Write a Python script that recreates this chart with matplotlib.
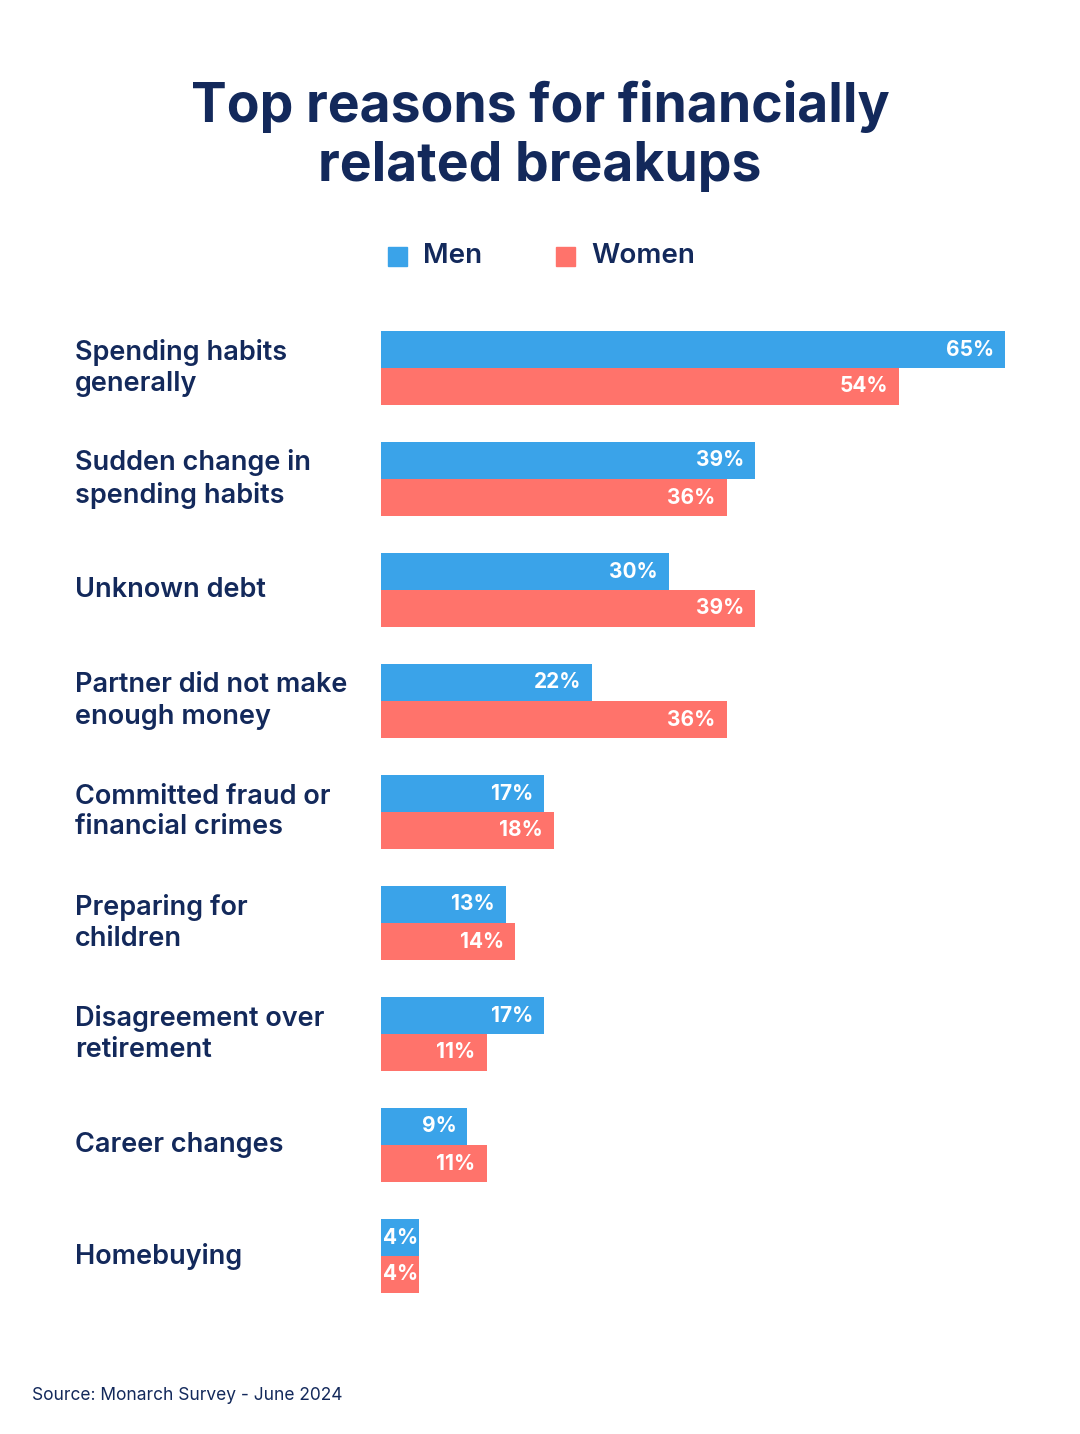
import matplotlib
matplotlib.use("Agg")
import matplotlib.pyplot as plt
from matplotlib.patches import Rectangle

plt.rcParams["font.family"] = "Inter"

categories = ["Spending habits\ngenerally", "Sudden change in\nspending habits", "Unknown debt",
              "Partner did not make\nenough money", "Committed fraud or\nfinancial crimes",
              "Preparing for\nchildren", "Disagreement over\nretirement", "Career changes", "Homebuying"]
men = [65, 39, 30, 22, 17, 13, 17, 9, 4]
women = [54, 36, 39, 36, 18, 14, 11, 11, 4]

NAVY = "#13295b"; BLUE = "#3aa3e9"; RED = "#ff736b"
W, H = 1080, 1434
fig = plt.figure(figsize=(W / 100, H / 100), dpi=100)
fig.patch.set_facecolor("white")

ax = fig.add_axes([381 / W, (H - 1293) / H, 624 / W, 962 / H])
bh = 37 / 111
ys = range(len(categories))
ax.barh([y - bh / 2 for y in ys], men, height=bh, color=BLUE)
ax.barh([y + bh / 2 for y in ys], women, height=bh, color=RED)
ax.set_xlim(0, 65)
ax.set_ylim(len(categories) - 1 + bh, -bh)
ax.axis("off")
for y, m, w in zip(ys, men, women):
    for v, yy in [(m, y - bh / 2), (w, y + bh / 2)]:
        ax.annotate(f"{v}%", (v, yy), xytext=(-1 if v < 5 else -8, 0), textcoords="offset points",
                    ha="right", va="center", color="white", fontsize=15, fontweight="bold")
    fig.text(75 / W, 1 - (368 + y * 111) / H, categories[y], ha="left", va="center",
             color=NAVY, fontsize=19.5, fontweight="semibold", linespacing=1.25)

fig.text(0.5, 1 - 136 / H, "Top reasons for financially\nrelated breakups", ha="center", va="center",
         color=NAVY, fontsize=38.5, fontweight="bold", linespacing=1.22)

for x0, lab, c in [(388, "Men", BLUE), (556, "Women", RED)]:
    fig.patches.append(Rectangle((x0 / W, 1 - 266 / H), 19 / W, 19 / H, transform=fig.transFigure,
                                 color=c, figure=fig))
    fig.text((x0 + 35) / W, 1 - 256 / H, lab, ha="left", va="center", color=NAVY, fontsize=20,
             fontweight="semibold")

fig.text(32 / W, 1 - 1395 / H, "Source: Monarch Survey - June 2024", ha="left", va="center",
         color=NAVY, fontsize=12.5)

fig.savefig("out.png", dpi=100)
